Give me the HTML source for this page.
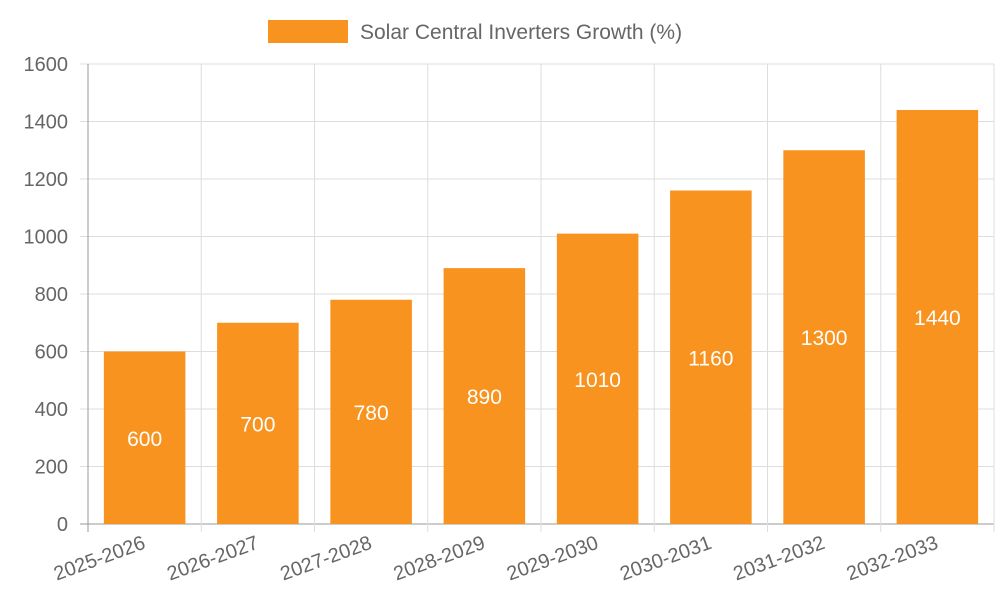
<!DOCTYPE html>
<html><head><meta charset="utf-8"><style>
body{margin:0;background:#fff;font-family:"Liberation Sans",sans-serif}
</style></head><body>
<svg id="chart" width="1000" height="600" xmlns="http://www.w3.org/2000/svg">
<rect x="268" y="20" width="80" height="23" fill="#f7931e"/>
<text x="360" y="39" font-size="21" fill="#666" font-family="Liberation Sans, sans-serif">Solar Central Inverters Growth (%)</text>
</svg>
<script>
const categories=["2025-2026","2026-2027","2027-2028","2028-2029","2029-2030","2030-2031","2031-2032","2032-2033"];
const values=[600,700,780,890,1010,1160,1300,1440];
const yTicks=[0,200,400,600,800,1000,1200,1400,1600];
const svg=document.getElementById('chart');
const NS='http://www.w3.org/2000/svg';
const L=88,R=994,T=64,B=524,yMax=1600;
const bw=(R-L)/categories.length;
const y=v=>B-(v/yMax)*(B-T);
const x=i=>L+bw*i;
function mk(tag,attrs){const e=document.createElementNS(NS,tag);for(const k in attrs)e.setAttribute(k,attrs[k]);svg.appendChild(e);return e;}
yTicks.forEach(t=>{
  const g=mk('line',{x1:L-8,x2:R,y1:y(t),y2:y(t),stroke:t===0?'#999':'#ddd','stroke-width':1});
  
  
  const tx=mk('text',{x:L-20,y:y(t)+7,'text-anchor':'end','font-size':20,fill:'#666'});
  tx.textContent=t;
  
  
});
for(let i=0;i<=categories.length;i++){
  const g=mk('line',{x1:x(i),x2:x(i),y1:T,y2:B+8,stroke:i===0?'#999':'#ddd','stroke-width':1});
  
  
}
categories.forEach((c,i)=>{
  const cx=x(i)+bw/2, w=bw*0.72;
  const r=mk('rect',{x:cx-w/2,y:y(values[i]),width:w,height:B-y(values[i]),fill:'#f7931e'});
  
  
  const vt=mk('text',{x:cx,y:(y(values[i])+B)/2+8,'text-anchor':'middle','font-size':21,fill:'#fff'});
  vt.textContent=values[i];
  
  
  const lt=mk('text',{x:cx+2,y:548,'text-anchor':'end','font-size':20,fill:'#666',transform:`rotate(-20 ${cx+2} 548)`});
  lt.textContent=c;
  
  
});
const ax=mk('line',{x1:L,x2:L,y1:T,y2:B,stroke:'#999'});


</script>
</body></html>
